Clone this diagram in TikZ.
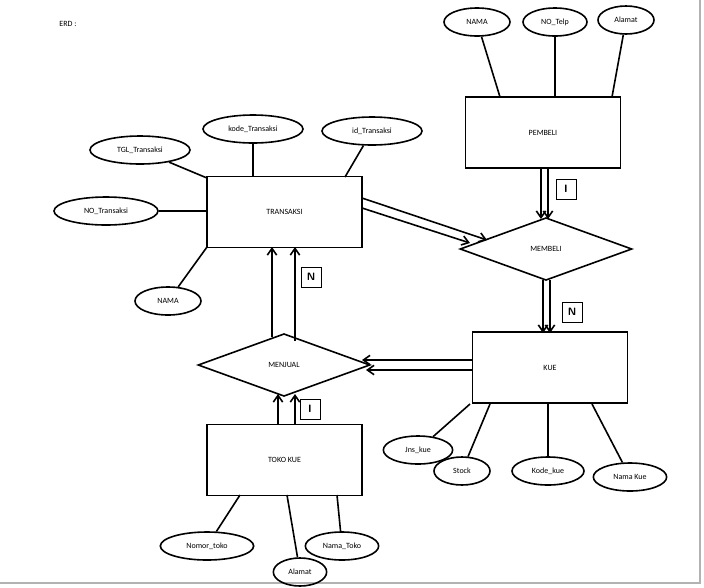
\documentclass[tikz,border=0pt]{standalone}
\usepackage{fontspec}
\setmainfont{Carlito}
\usetikzlibrary{arrows.meta,shapes.geometric}
\begin{document}
\begin{tikzpicture}[x=0.75pt,y=-0.75pt,
 every node/.style={font=\fontsize{6}{7}\selectfont},
 ln/.style={line width=1.2pt},
 ent/.style={draw,line width=1.2pt,minimum width=116.5pt,minimum height=53pt,inner sep=0},
 att/.style={draw,ellipse,line width=1.2pt,minimum height=21pt,inner sep=0},
 rel/.style={draw,diamond,aspect=2.75,line width=1.2pt,minimum width=129pt,minimum height=47pt,inner sep=0},
 card/.style={draw,line width=0.6pt,minimum size=15pt,inner sep=0,font=\sffamily\bfseries\fontsize{8}{9}\selectfont},
 ar/.style={ln,-{Straight Barb[length=5pt,width=7pt]}}]
\useasboundingbox (0,0) rectangle (704,587);
\draw[gray!60,line width=0.8pt] (700,0) -- (700,583) -- (0,583);
\node at (68,24) {ERD :};
% entities
\node[ent] (pem) at (543,132.5) {PEMBELI};
\node[ent] (tra) at (284.5,212) {TRANSAKSI};
\node[ent] (kue) at (550,367.5) {KUE};
\node[ent] (tok) at (284.5,460) {TOKO KUE};
% relations
\node[rel] (mem) at (546,249) {MEMBELI};
\node[rel] (men) at (284,365) {MENJUAL};
% attributes
\node[att,minimum width=49.5pt] (pn) at (477,22) {NAMA};
\node[att,minimum width=48pt] (pt) at (555,22) {NO\_Telp};
\node[att,minimum width=42pt] (pa) at (626,20) {Alamat};
\node[att,minimum width=75pt] (tg) at (140,150) {TGL\_Transaksi};
\node[att,minimum width=75pt] (tk) at (253,129) {kode\_Transaksi};
\node[att,minimum width=75pt] (ti) at (372,131) {id\_Transaksi};
\node[att,minimum width=78pt] (tn) at (106,211) {NO\_Transaksi};
\node[att,minimum width=49.5pt] (tm) at (168,301) {NAMA};
\node[att,minimum width=52pt] (kj) at (418,450) {Jns\_kue};
\node[att,minimum width=42pt] (ks) at (462,471) {Stock};
\node[att,minimum width=54pt] (kk) at (548,471) {Kode\_kue};
\node[att,minimum width=55pt] (kn) at (630,477) {Nama Kue};
\node[att,minimum width=70pt] (on) at (207,546) {Nomor\_toko};
\node[att,minimum width=40pt] (oa) at (300,572) {Alamat};
\node[att,minimum width=55pt] (ot) at (342,546) {Nama\_Toko};
% attribute lines
\draw[ln] (pn) -- (500,97);
\draw[ln] (pt) -- (555,97);
\draw[ln] (pa) -- (612,97);
\draw[ln] (tg) -- (207,178);
\draw[ln] (tk) -- (253,177);
\draw[ln] (ti) -- (345,177);
\draw[ln] (tn) -- (207,211);
\draw[ln] (tm) -- (207,247);
\draw[ln] (470,404) -- (kj);
\draw[ln] (490,404) -- (ks);
\draw[ln] (548,404) -- (kk);
\draw[ln] (592,404) -- (kn);
\draw[ln] (240,495) -- (on);
\draw[ln] (287,495) -- (oa);
\draw[ln] (337,495) -- (ot);
% relationship arrows
\draw[ar] (541,168) -- (541,219);
\draw[ar] (548,168) -- (548,219);
\node[card] at (566,189) {I};
\draw[ar] (362,198) -- (487,240);
\draw[ar] (362,208) -- (470,243);
\draw[ar] (543,280) -- (543,333);
\draw[ar] (550,280) -- (550,333);
\node[card] at (572,312) {N};
\draw[ar] (472,360) -- (362,360);
\draw[ar] (472,370) -- (366,370);
\draw[ar] (272,337) -- (272,247);
\draw[ar] (295,341) -- (295,247);
\node[card] at (311,277) {N};
\draw[ar] (278,425) -- (278,394);
\draw[ar] (295,425) -- (295,394);
\node[card] at (310,409) {I};
\end{tikzpicture}
\end{document}
